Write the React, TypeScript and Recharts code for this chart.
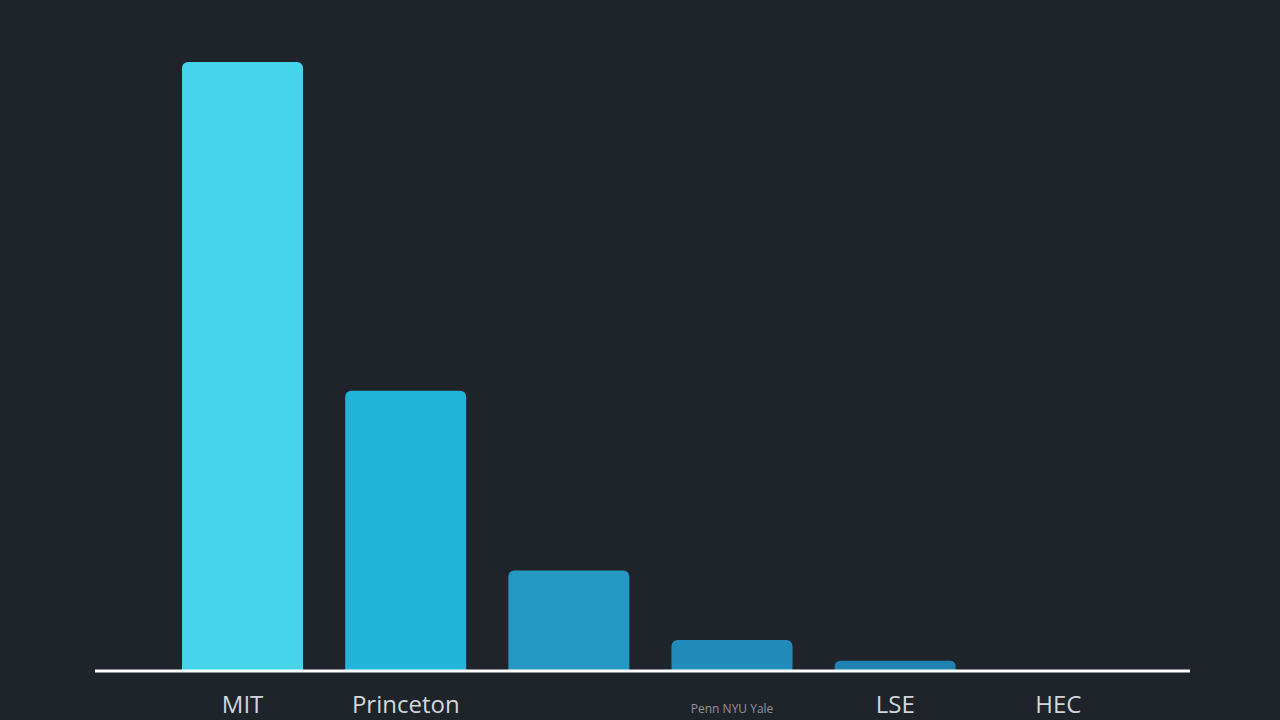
import React from 'react';
import { BarChart, Bar, XAxis, YAxis, Cell } from 'recharts';

// schools + score (MIT = 100)
const schools = ['MIT', 'Princeton', '', 'Penn NYU Yale', 'LSE', 'HEC'];
const scores = [100, 46, 16.5, 5.1, 1.7, 0];
const barColors = ['#45d4ea', '#22b4d9', '#2497c2', '#218cbc', '#1f82b3', '#1e78aa'];

const data = schools.map((name, i) => ({ name, score: scores[i] }));

const SchoolTick = (props: any) => {
  const { x, y, payload } = props;
  const small = payload.value.length > 10;
  return (
    <text
      x={x}
      y={y + (small ? 34 : 34)}
      textAnchor="middle"
      fill={small ? '#8f959c' : '#d2d6db'}
      fontSize={small ? 12 : 24}
      fontFamily="'Open Sans', 'Noto Sans', sans-serif"
    >
      {payload.value}
    </text>
  );
};

const App = () => {
  return (
    <div style={{ position: 'absolute', left: 0, top: 0, width: 1280, height: 720, background: '#1f242b', overflow: 'hidden' }}>
      <BarChart
        width={1280}
        height={720}
        data={data}
        margin={{ top: 62, right: 90, left: 95, bottom: 0 }}
      >
        <XAxis
          dataKey="name"
          height={49}
          padding={{ left: 66, right: 50 }}
          axisLine={{ stroke: '#ffffff', strokeWidth: 3 }}
          tickLine={false}
          tick={<SchoolTick />}
          interval={0}
        />
        <YAxis hide domain={[0, 100]} />
        <Bar dataKey="score" barSize={121} radius={[6, 6, 0, 0]} isAnimationActive={false}>
          {data.map((d, i) => (
            <Cell key={d.name + i} fill={barColors[i]} />
          ))}
        </Bar>
      </BarChart>
    </div>
  );
};

export default App;
